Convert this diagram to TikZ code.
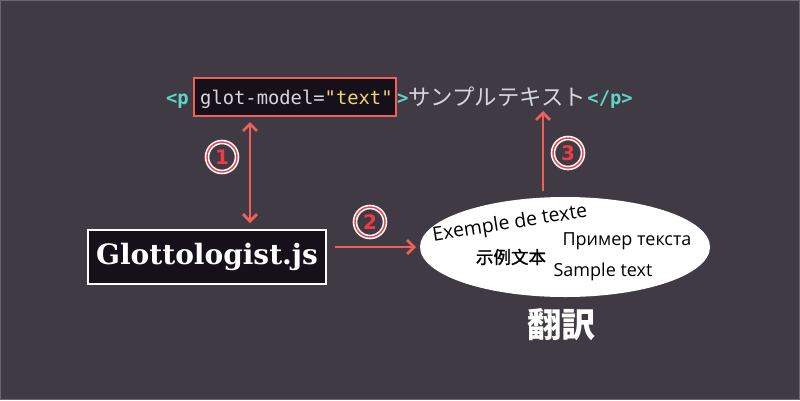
\documentclass[tikz,border=0pt]{standalone}
\usepackage{fontspec}
\usetikzlibrary{arrows.meta,shapes.geometric,calc}
\newfontfamily\codefont{DejaVu Sans Mono}
\newfontfamily\jpfont{Noto Sans CJK JP}
\newfontfamily\scfont[FakeBold=1.2]{Noto Sans CJK SC}
\newfontfamily\logofont{DejaVu Serif}
\newfontfamily\handfont{Open Sans}
\definecolor{bg}{HTML}{403A45}
\definecolor{edge}{HTML}{6A6470}
\definecolor{boxfill}{HTML}{15101A}
\definecolor{arr}{HTML}{F0605A}
\definecolor{teal}{HTML}{5ED6C3}
\definecolor{codegray}{HTML}{D8D4DC}
\definecolor{yel}{HTML}{F2D279}
\definecolor{numred}{HTML}{EE3B45}
\tikzset{
  conn/.style={draw=arr, line width=2.8pt, -{Straight Barb[length=7pt,width=14pt,line width=2.8pt]}},
  numlabel/.style={circle, draw=white, line width=1.6pt, fill=bg, minimum size=30pt, inner sep=0pt,
     font=\fontspec{DejaVu Sans}\bfseries\fontsize{20}{20}\selectfont, text=numred,
     double=numred, double distance=1.4pt},
  code/.style={inner sep=0pt, anchor=base west, font=\codefont\fontsize{18.8}{20}\selectfont},
  hand/.style={inner sep=0pt, text=black, font=\handfont\fontsize{18}{20}\selectfont},
}
\begin{document}
\begin{tikzpicture}[x=1pt,y=-1pt]
\fill[bg] (0,0) rectangle (800,400);
\draw[edge, line width=1pt] (0.5,0.5) rectangle (799.5,399.5);
\useasboundingbox (0,0) rectangle (800,400);

% code line
\node[draw=arr, line width=2pt, fill=boxfill, minimum width=202pt, minimum height=38pt, inner sep=0pt] (attr) at (295,97) {};
\node[code, text=codegray] (attrtxt) at (200,104) {glot-model=\textcolor{yel}{"text"}};
\node[code, text=teal, anchor=base east, font=\codefont\bfseries\fontsize{18.8}{20}\selectfont] (popen) at (189,104) {<p};
\node[code, text=teal, font=\codefont\bfseries\fontsize{18.8}{20}\selectfont] (gt) at (397,104) {>};
\node[code, text=codegray, font=\jpfont\fontsize{22.4}{24}\selectfont] (jp) at (408,105) {サンプルテキスト};
\node[code, text=teal, font=\codefont\bfseries\fontsize{18.8}{20}\selectfont] (pclose) at ($(jp.base east)+(1,-1)$) {</p>};

% Glottologist box
\node[draw=white, line width=2pt, fill=boxfill, minimum width=238pt, minimum height=54pt, inner sep=0pt,
      text=white, font=\logofont\bfseries\fontsize{28}{30}\selectfont] (glot) at (207,257) {Glottologist.js};

% translations ellipse
\node[ellipse, fill=white, minimum width=290pt, minimum height=100pt, inner sep=0pt] (trans) at (565,247) {};
\node[hand, rotate=9, font=\handfont\fontsize{19.5}{21}\selectfont] (fr) at (510,224) {Exemple de texte};
\node[hand] (ru) at (627,241) {Пример текста};
\node[hand, font=\scfont\fontsize{17.5}{19}\selectfont] (zh) at (511,257) {示例文本};
\node[hand] (en) at (603,272) {Sample text};
\node[text=white, font=\jpfont\bfseries\fontsize{34}{36}\selectfont, inner sep=0pt] (honyaku) at (561,325) {翻訳};

% connectors
\coordinate (a1top) at (250,122);
\coordinate (a1bot) at (250,223);
\draw[conn, {Straight Barb[length=7pt,width=14pt,line width=2.8pt]}-{Straight Barb[length=7pt,width=14pt,line width=2.8pt]}] (a1top) -- (a1bot);
\coordinate (a2s) at (335,247);
\coordinate (a2e) at (416,247);
\draw[conn] (a2s) -- (a2e);
\coordinate (a3s) at (543,191);
\coordinate (a3e) at (543,111);
\draw[conn] (a3s) -- (a3e);

% number labels
\node[numlabel] (n1) at (222,157) {1};
\node[numlabel] (n2) at (370,222) {2};
\node[numlabel] (n3) at (568,153) {3};
\end{tikzpicture}
\end{document}
